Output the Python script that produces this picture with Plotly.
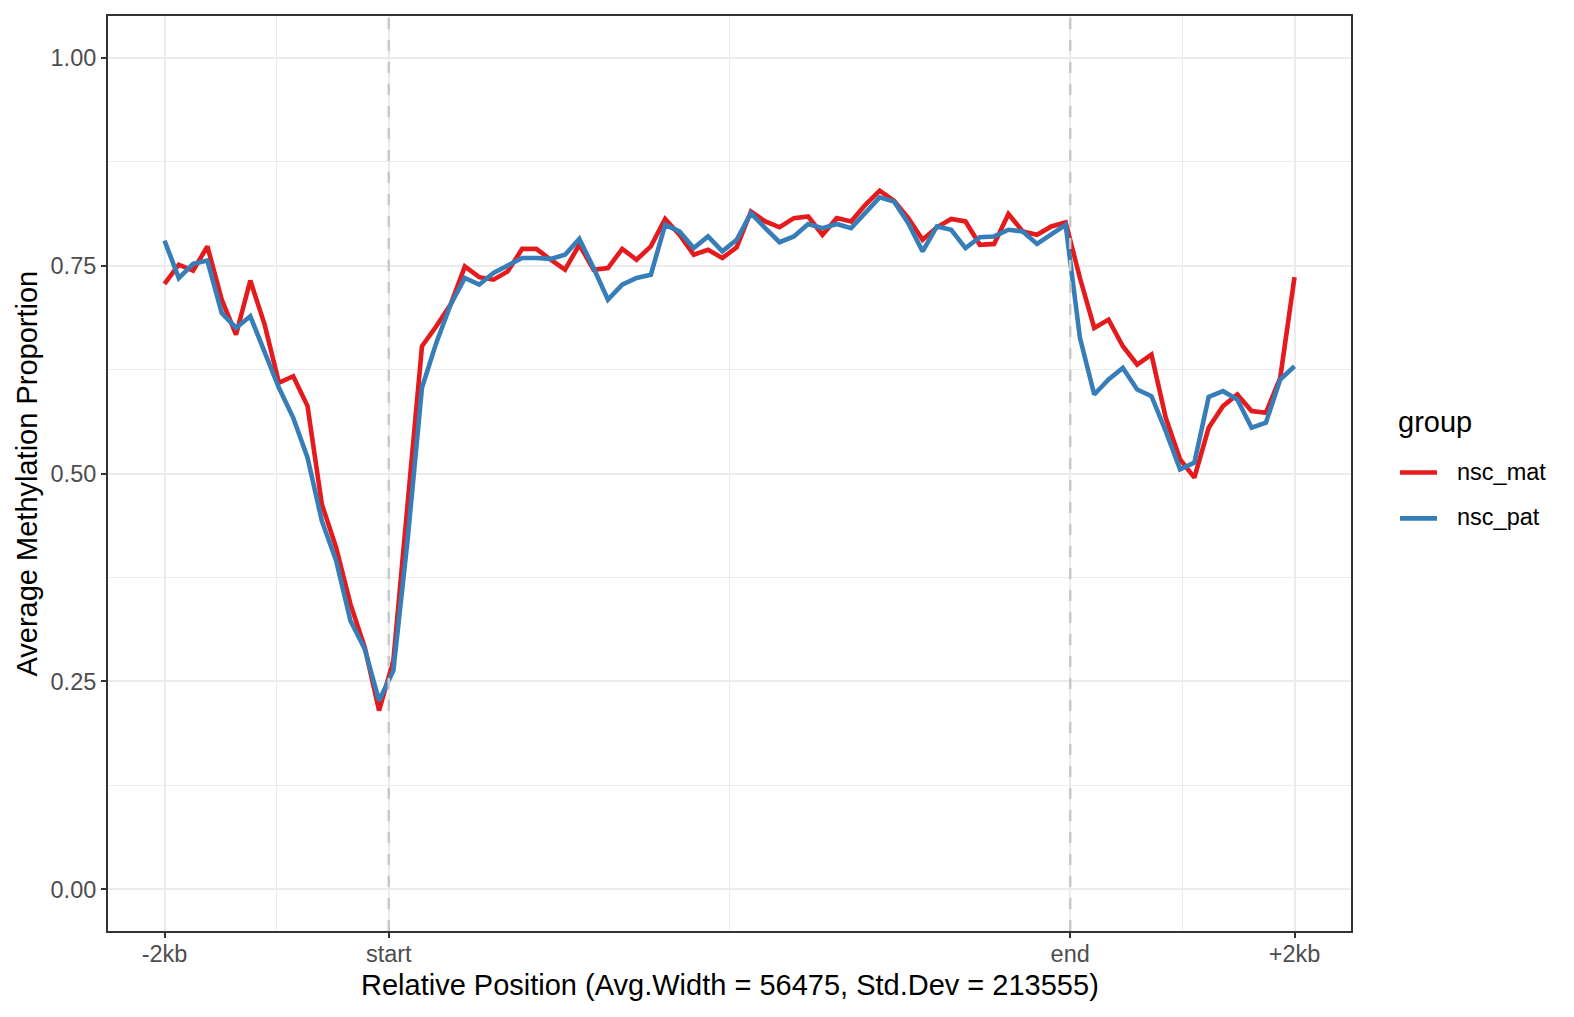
import plotly.graph_objects as go

# ---- data ----
bins = list(range(80))  # bin index along the scaled region
nsc_mat = [0.728, 0.751, 0.744, 0.773, 0.709, 0.667, 0.732, 0.679, 0.609, 0.617,
           0.581, 0.463, 0.411, 0.343, 0.291, 0.215, 0.275, 0.457, 0.653, 0.677,
           0.703, 0.749, 0.736, 0.733, 0.743, 0.770, 0.770, 0.757, 0.745, 0.775,
           0.745, 0.747, 0.770, 0.757, 0.773, 0.806, 0.787, 0.763, 0.769, 0.759,
           0.772, 0.815, 0.803, 0.796, 0.807, 0.809, 0.787, 0.807, 0.803, 0.823,
           0.840, 0.828, 0.807, 0.781, 0.796, 0.806, 0.803, 0.775, 0.776, 0.812,
           0.791, 0.787, 0.797, 0.802, 0.735, 0.675, 0.685, 0.653, 0.631, 0.643,
           0.567, 0.517, 0.495, 0.555, 0.581, 0.595, 0.575, 0.573, 0.615, 0.736]
nsc_pat = [0.780, 0.735, 0.752, 0.756, 0.693, 0.675, 0.689, 0.647, 0.603, 0.567,
           0.519, 0.443, 0.395, 0.323, 0.289, 0.227, 0.263, 0.421, 0.603, 0.657,
           0.703, 0.735, 0.727, 0.741, 0.750, 0.759, 0.759, 0.758, 0.763, 0.782,
           0.747, 0.709, 0.727, 0.735, 0.739, 0.799, 0.791, 0.771, 0.785, 0.767,
           0.781, 0.813, 0.795, 0.778, 0.785, 0.800, 0.795, 0.800, 0.795, 0.813,
           0.832, 0.827, 0.801, 0.767, 0.797, 0.793, 0.771, 0.784, 0.785, 0.793,
           0.791, 0.776, 0.787, 0.799, 0.663, 0.595, 0.613, 0.627, 0.601, 0.593,
           0.551, 0.505, 0.513, 0.592, 0.599, 0.589, 0.555, 0.561, 0.613, 0.629]
group_names = ["nsc_mat", "nsc_pat"]
group_colors = ["#E41A1C", "#377EB8"]

x_tick_vals = [0, 15.68, 63.32, 79]
x_tick_text = ["-2kb", "start", "end", "+2kb"]
x_boundary_vals = [15.68, 63.32]
y_tick_vals = [0, 0.25, 0.5, 0.75, 1.0]
y_minor_vals = [0.125, 0.375, 0.625, 0.875]

x_title = "Relative Position (Avg.Width = 56475, Std.Dev = 213555)"
y_title = "Average Methylation Proportion"

# ---- layout geometry (page pixels; the page body adds an 8px margin) ----
OFF = 8
W, H = 1574 - 2 * OFF, 1017 - 2 * OFF
L, R, T, B = 108 - OFF, 1351 - OFF, 14 - OFF, 931 - OFF
FONT = "Liberation Sans, Arial, Helvetica, sans-serif"
TICK_SIZE = 23.5
TITLE_SIZE = 29

fig = go.Figure()
for name, vals, col in zip(group_names, [nsc_mat, nsc_pat], group_colors):
    fig.add_trace(go.Scatter(x=bins, y=vals, mode="lines", name=name,
                             line=dict(color=col, width=4.6), showlegend=False))

xmin, xmax = min(x_tick_vals), max(x_tick_vals)
xpad = 0.05 * (xmax - xmin)
x_minor = [(a + b) / 2 for a, b in zip(x_tick_vals[:-1], x_tick_vals[1:])]

fig.update_layout(
    width=W, height=H,
    margin=dict(l=L, r=W - R, t=T, b=H - B, pad=0),
    paper_bgcolor="white", plot_bgcolor="white",
    font=dict(family=FONT, color="#000000"),
    showlegend=False,
)
fig.update_xaxes(
    range=[xmin - xpad, xmax + xpad],
    tickmode="array", tickvals=x_tick_vals, ticktext=x_tick_text,
    ticks="outside", ticklen=5, tickwidth=2, tickcolor="#333333",
    ticklabelstandoff=-4,
    tickfont=dict(size=TICK_SIZE, color="#4D4D4D", family=FONT),
    showgrid=True, gridcolor="#EBEBEB", gridwidth=2,
    minor=dict(tickmode="array", tickvals=x_minor, showgrid=True,
               gridcolor="#EBEBEB", gridwidth=1, ticks=""),
    showline=True, linecolor="#333333", linewidth=2, mirror=True,
    zeroline=False,
)
fig.update_yaxes(
    range=[-0.05, 1.05],
    tickmode="array", tickvals=y_tick_vals,
    ticktext=[f"{v:.2f}" for v in y_tick_vals],
    ticks="outside", ticklen=5, tickwidth=2, tickcolor="#333333",
    tickfont=dict(size=TICK_SIZE, color="#4D4D4D", family=FONT),
    showgrid=True, gridcolor="#EBEBEB", gridwidth=2,
    minor=dict(tickmode="array", tickvals=y_minor_vals, showgrid=True,
               gridcolor="#EBEBEB", gridwidth=1, ticks=""),
    showline=True, linecolor="#333333", linewidth=2, mirror=True,
    zeroline=False,
)

# dashed boundary lines at start / end
for xv in x_boundary_vals:
    fig.add_vline(x=xv, line=dict(color="#C8C8C8", width=2.5, dash="11px,11px"), layer="above")

# axis titles (positions given in page pixels)
pw, ph = R - L, B - T


def px_x(p):
    return (p - OFF - L) / pw


def px_y(p):
    return (B - (p - OFF)) / ph


fig.add_annotation(text=x_title, xref="paper", yref="paper", x=0.5, y=px_y(985),
                   xanchor="center", yanchor="middle",
                   showarrow=False, font=dict(size=TITLE_SIZE, color="#000000", family=FONT))
fig.add_annotation(text=y_title, xref="paper", yref="paper", x=px_x(26), y=0.5,
                   xanchor="center", yanchor="middle", textangle=-90,
                   showarrow=False, font=dict(size=TITLE_SIZE, color="#000000", family=FONT))

# legend (manual, ggplot-like)
fig.add_annotation(text="group", xref="paper", yref="paper", x=px_x(1396), y=px_y(421),
                   xanchor="left", yanchor="middle", showarrow=False,
                   font=dict(size=TITLE_SIZE, color="#000000", family=FONT))
key_y = [471.5, 517.5]
for name, col, ky in zip(group_names, group_colors, key_y):
    fig.add_shape(type="line", xref="paper", yref="paper",
                  x0=px_x(1400), x1=px_x(1437), y0=px_y(ky), y1=px_y(ky),
                  line=dict(color=col, width=4.6))
    fig.add_annotation(text=name, xref="paper", yref="paper", x=px_x(1455), y=px_y(ky - 1),
                       xanchor="left", yanchor="middle", showarrow=False,
                       font=dict(size=TICK_SIZE, color="#000000", family=FONT))

fig.write_html("out.html")
